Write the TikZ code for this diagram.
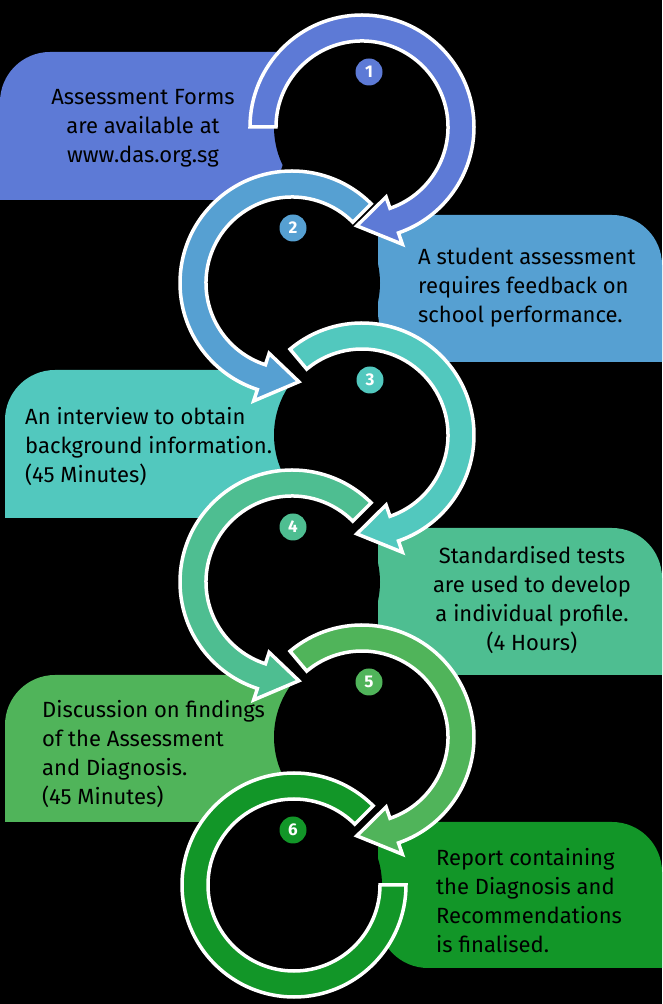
\documentclass[tikz,border=0pt]{standalone}
\usepackage{fontspec}
\setmainfont{Fira Sans}
\definecolor{cA}{RGB}{93,122,214}
\definecolor{cB}{RGB}{86,160,210}
\definecolor{cC}{RGB}{82,200,190}
\definecolor{cD}{RGB}{78,190,145}
\definecolor{cE}{RGB}{80,180,90}
\definecolor{cF}{RGB}{18,150,40}
\newcommand{\ringarrow}[6]{% center x,y ; start ; end ; tip ; color
\begin{scope}[shift={(#1pt,#2pt)}]
\filldraw[fill=#6,draw=white,line width=3.5pt,line join=miter]
 (#3:112pt) arc[start angle=#3,end angle=#4,radius=112pt] -- (#4:124pt) -- (#5:99pt) -- (#4:74pt) -- (#4:86pt) arc[start angle=#4,end angle=#3,radius=86pt] -- cycle;
\end{scope}}
\newcommand{\leafL}[5]{\fill[#5] (#1pt,#3pt) -- (#1pt,#4pt-50pt) arc[start angle=180,end angle=90,radius=50pt] -- (#2pt,#4pt) -- (#2pt,#3pt+50pt) arc[start angle=0,end angle=-90,radius=50pt] -- cycle;}
\newcommand{\leafR}[5]{\fill[#5] (#1pt,#4pt) -- (#2pt-50pt,#4pt) arc[start angle=90,end angle=0,radius=50pt] -- (#2pt,#3pt) -- (#1pt+50pt,#3pt) arc[start angle=270,end angle=180,radius=50pt] -- cycle;}
\tikzset{num/.style={circle,minimum size=27pt,inner sep=0pt,text=white,font=\bfseries\fontsize{17}{17}\selectfont},
 txt/.style={font=\fontsize{22}{29}\selectfont,text=black,inner sep=0pt}}
\begin{document}
\begin{tikzpicture}
\fill[black] (0,0) rectangle (662pt,1004pt);
\useasboundingbox (0,0) rectangle (662pt,1004pt);
\leafL{0}{285}{804}{952}{cA}
\leafR{378}{662}{642}{789}{cB}
\leafL{5}{290}{486}{634}{cC}
\leafR{378}{662}{329}{476}{cD}
\leafL{5}{290}{182}{329}{cE}
\leafR{378}{662}{36}{182}{cF}
% ring interiors
\foreach \cx/\cy in {362/877,292/721,362/569,292/422,362/267,294/119}
  \fill[black] (\cx pt,\cy pt) circle[radius=88pt];
% rings, drawn bottom to top
\begin{scope}[shift={(294pt,119pt)}]
\filldraw[fill=cF,draw=white,line width=3.5pt] (45:112pt) arc[start angle=45,end angle=360,radius=112pt] -- (0:86pt) arc[start angle=360,end angle=45,radius=86pt] -- cycle;
\end{scope}
\ringarrow{362}{267}{130}{-71}{-93}{cE}
\ringarrow{292}{422}{45}{252}{274}{cD}
\ringarrow{362}{569}{130}{-71}{-93}{cC}
\ringarrow{292}{721}{45}{252}{274}{cB}
\ringarrow{362}{877}{180}{-71}{-93}{cA}
\node[num,fill=cA] (n1) at (369pt,932pt) {1};
\node[num,fill=cB] (n2) at (293pt,776pt) {2};
\node[num,fill=cC] (n3) at (370pt,624pt) {3};
\node[num,fill=cD] (n4) at (293pt,477pt) {4};
\node[num,fill=cE] (n5) at (369pt,322pt) {5};
\node[num,fill=cF] (n6) at (293pt,174pt) {6};
\node[txt,align=center] (t1) at (143pt,876pt) {Assessment Forms\\are available at\\www.das.org.sg};
\node[txt,align=left,anchor=west] (t2) at (418pt,716pt) {A student assessment\\requires feedback on\\school performance.};
\node[txt,align=left,anchor=west] (t3) at (25pt,557pt) {An interview to obtain\\background information.\\(45 Minutes)};
\node[txt,align=center] (t4) at (532pt,404pt) {Standardised tests\\are used to develop\\a individual profile.\\(4 Hours)};
\node[txt,align=left,anchor=west] (t5) at (42pt,250pt) {Discussion on findings\\of the Assessment\\and Diagnosis.\\(45 Minutes)};
\node[txt,align=left,anchor=west] (t6) at (436pt,103pt) {Report containing\\the Diagnosis and\\Recommendations\\is finalised.};
\end{tikzpicture}
\end{document}
